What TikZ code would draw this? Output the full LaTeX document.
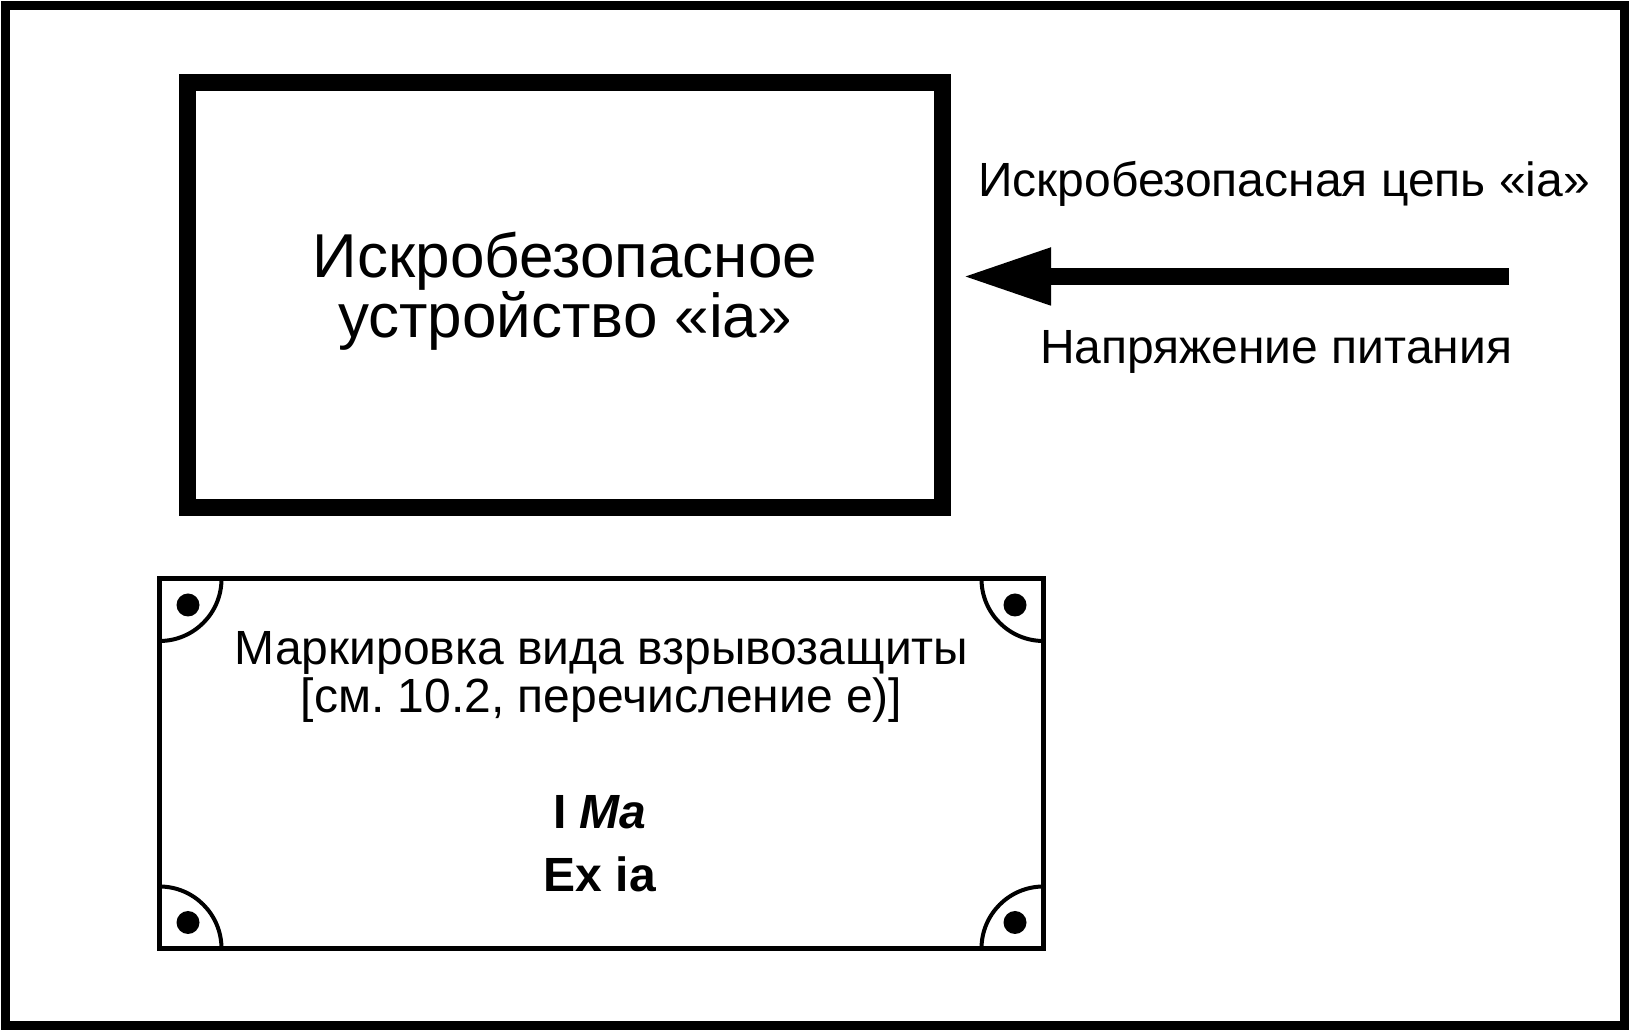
\documentclass[tikz,border=0pt]{standalone}
\usepackage{fontspec}
\setmainfont{Liberation Sans}
\frenchspacing
\usetikzlibrary{arrows.meta}

\begin{document}
\begin{tikzpicture}[x=0.5pt,y=-0.5pt,
        devbox/.style={draw,line width=8.5pt,minimum width=377.5pt,minimum height=212.25pt},
        devtext/.style={align=center,font=\fontsize{31}{30}\selectfont},
        platebox/.style={draw,line width=2.5pt,outer sep=0pt,minimum width=442pt,minimum height=184.75pt},
        lbl/.style={font=\fontsize{24}{24}\selectfont,inner sep=0pt},
        feed/.style={line width=8.5pt,-{Triangle[length=44.5pt,width=26.5pt]},shorten >=5.5pt}]
        %\draw[gray] (0,0) grid[step=100] (1630,1031);
        \useasboundingbox (0,0) rectangle (1630,1031);
        \draw[line width=4.5pt] (5.5,5.5) rectangle (1624,1026);

        \node[devbox] (dev) at (565,295.25) {};
        \node[devtext] (devlbl) at (565,291) {Искробезопасное\\устройство «ia»};

        \node[lbl,anchor=base] (circ) at (1284,197) {Искробезопасная цепь «ia»};
        \node[lbl,anchor=base] (supply) at (1276,364) {Напряжение питания};
        \coordinate (src) at (1509,276.5);
        \draw[feed] (src) -- (src -| dev.east);

        \node[platebox] (plate) at (601.5,763.75) {};
        \node[lbl,align=center] (title) at (601.5,676.8) {Маркировка вида взрывозащиты\\ {[}см. 10.2, перечисление е)]};
        \node[lbl,align=center,font=\fontsize{24}{31.5}\selectfont\bfseries] (mark) at (600,843.3) {I \textit{Ma}\\Ex ia};

        \begin{scope}
            \clip (plate.north west) rectangle (plate.south east);
            \foreach \c/\dx/\dy in {north west/1/1,north east/-1/1,south west/1/-1,south east/-1/-1}{
                \draw[line width=2pt] (plate.\c) circle[radius=62];
                \fill ([shift={(\dx*28.5,\dy*26)}]plate.\c) circle[radius=11.5];
            }
        \end{scope}
    \end{tikzpicture}
\end{document}
